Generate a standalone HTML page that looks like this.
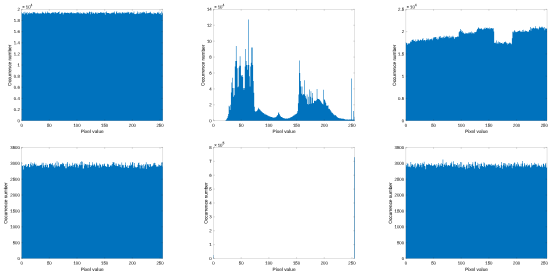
<!DOCTYPE html>
<html><head><meta charset="utf-8"><title>Histograms</title>
<style>
html,body{margin:0;padding:0;background:#fff;}
body{width:550px;height:275px;overflow:hidden;}
svg{display:block;}
text{text-rendering:geometricPrecision;stroke:#262626;stroke-width:0.06px;font-family:"Liberation Sans",sans-serif;fill:#262626;}
</style></head><body>
<svg width="550" height="275" viewBox="0 0 550 275">
<rect width="550" height="275" fill="#fff"/>
<g>
<path d="M21.60 120.70 L21.60 11.84 L21.88 11.84 L21.88 13.39 L22.43 13.39 L22.43 13.34 L22.98 13.34 L22.98 13.72 L23.54 13.72 L23.54 12.37 L24.09 12.37 L24.09 14.57 L24.65 14.57 L24.65 11.75 L25.20 11.75 L25.20 13.50 L25.75 13.50 L25.75 12.75 L26.31 12.75 L26.31 13.14 L26.86 13.14 L26.86 11.95 L27.41 11.95 L27.41 14.40 L27.97 14.40 L27.97 13.19 L28.52 13.19 L28.52 13.24 L29.08 13.24 L29.08 12.18 L29.63 12.18 L29.63 13.73 L30.18 13.73 L30.18 13.09 L30.74 13.09 L30.74 13.58 L31.29 13.58 L31.29 12.94 L31.84 12.94 L31.84 12.56 L32.40 12.56 L32.40 13.73 L32.95 13.73 L32.95 12.17 L33.51 12.17 L33.51 12.34 L34.06 12.34 L34.06 12.62 L34.61 12.62 L34.61 12.34 L35.17 12.34 L35.17 13.44 L35.72 13.44 L35.72 13.05 L36.27 13.05 L36.27 13.62 L36.83 13.62 L36.83 13.16 L37.38 13.16 L37.38 12.60 L37.93 12.60 L37.93 13.45 L38.49 13.45 L38.49 13.24 L39.04 13.24 L39.04 13.45 L39.60 13.45 L39.60 13.56 L40.15 13.56 L40.15 13.44 L40.70 13.44 L40.70 12.98 L41.26 12.98 L41.26 13.75 L41.81 13.75 L41.81 12.81 L42.36 12.81 L42.36 11.81 L42.92 11.81 L42.92 12.45 L43.47 12.45 L43.47 13.10 L44.03 13.10 L44.03 13.59 L44.58 13.59 L44.58 13.49 L45.13 13.49 L45.13 11.79 L45.69 11.79 L45.69 12.93 L46.24 12.93 L46.24 13.41 L46.79 13.41 L46.79 12.84 L47.35 12.84 L47.35 11.51 L47.90 11.51 L47.90 12.89 L48.46 12.89 L48.46 12.54 L49.01 12.54 L49.01 12.76 L49.56 12.76 L49.56 13.21 L50.12 13.21 L50.12 13.76 L50.67 13.76 L50.67 13.21 L51.22 13.21 L51.22 13.11 L51.78 13.11 L51.78 12.56 L52.33 12.56 L52.33 12.38 L52.89 12.38 L52.89 12.32 L53.44 12.32 L53.44 12.77 L53.99 12.77 L53.99 12.35 L54.55 12.35 L54.55 13.49 L55.10 13.49 L55.10 12.10 L55.65 12.10 L55.65 12.61 L56.21 12.61 L56.21 13.18 L56.76 13.18 L56.76 12.63 L57.32 12.63 L57.32 13.02 L57.87 13.02 L57.87 12.18 L58.42 12.18 L58.42 11.91 L58.98 11.91 L58.98 11.45 L59.53 11.45 L59.53 13.94 L60.08 13.94 L60.08 13.97 L60.64 13.97 L60.64 13.32 L61.19 13.32 L61.19 12.86 L61.75 12.86 L61.75 12.36 L62.30 12.36 L62.30 12.75 L62.85 12.75 L62.85 14.38 L63.41 14.38 L63.41 13.18 L63.96 13.18 L63.96 12.39 L64.51 12.39 L64.51 12.81 L65.07 12.81 L65.07 12.44 L65.62 12.44 L65.62 13.12 L66.17 13.12 L66.17 13.11 L66.73 13.11 L66.73 12.84 L67.28 12.84 L67.28 12.68 L67.84 12.68 L67.84 12.83 L68.39 12.83 L68.39 12.89 L68.94 12.89 L68.94 13.44 L69.50 13.44 L69.50 12.71 L70.05 12.71 L70.05 12.88 L70.60 12.88 L70.60 12.18 L71.16 12.18 L71.16 12.13 L71.71 12.13 L71.71 12.84 L72.27 12.84 L72.27 13.23 L72.82 13.23 L72.82 13.41 L73.37 13.41 L73.37 12.67 L73.93 12.67 L73.93 12.92 L74.48 12.92 L74.48 13.21 L75.03 13.21 L75.03 12.94 L75.59 12.94 L75.59 13.40 L76.14 13.40 L76.14 12.48 L76.70 12.48 L76.70 13.28 L77.25 13.28 L77.25 12.12 L77.80 12.12 L77.80 12.69 L78.36 12.69 L78.36 12.56 L78.91 12.56 L78.91 13.73 L79.46 13.73 L79.46 12.85 L80.02 12.85 L80.02 12.45 L80.57 12.45 L80.57 13.63 L81.13 13.63 L81.13 13.15 L81.68 13.15 L81.68 12.95 L82.23 12.95 L82.23 13.92 L82.79 13.92 L82.79 12.75 L83.34 12.75 L83.34 12.38 L83.89 12.38 L83.89 13.57 L84.45 13.57 L84.45 12.72 L85.00 12.72 L85.00 13.88 L85.56 13.88 L85.56 13.00 L86.11 13.00 L86.11 14.09 L86.66 14.09 L86.66 12.19 L87.22 12.19 L87.22 12.68 L87.77 12.68 L87.77 12.99 L88.32 12.99 L88.32 13.51 L88.88 13.51 L88.88 12.08 L89.43 12.08 L89.43 11.60 L89.99 11.60 L89.99 14.26 L90.54 14.26 L90.54 12.11 L91.09 12.11 L91.09 11.84 L91.65 11.84 L91.65 12.73 L92.20 12.73 L92.20 13.80 L92.75 13.80 L92.75 12.37 L93.31 12.37 L93.31 13.09 L93.86 13.09 L93.86 13.39 L94.41 13.39 L94.41 13.82 L94.97 13.82 L94.97 12.59 L95.52 12.59 L95.52 12.42 L96.08 12.42 L96.08 13.40 L96.63 13.40 L96.63 12.61 L97.18 12.61 L97.18 13.77 L97.74 13.77 L97.74 12.41 L98.29 12.41 L98.29 12.94 L98.84 12.94 L98.84 13.10 L99.40 13.10 L99.40 13.04 L99.95 13.04 L99.95 12.36 L100.51 12.36 L100.51 12.45 L101.06 12.45 L101.06 12.60 L101.61 12.60 L101.61 12.87 L102.17 12.87 L102.17 12.91 L102.72 12.91 L102.72 12.54 L103.27 12.54 L103.27 12.81 L103.83 12.81 L103.83 12.49 L104.38 12.49 L104.38 13.18 L104.94 13.18 L104.94 14.66 L105.49 14.66 L105.49 12.25 L106.04 12.25 L106.04 11.45 L106.60 11.45 L106.60 12.66 L107.15 12.66 L107.15 13.04 L107.70 13.04 L107.70 13.06 L108.26 13.06 L108.26 13.05 L108.81 13.05 L108.81 12.96 L109.37 12.96 L109.37 13.75 L109.92 13.75 L109.92 13.33 L110.47 13.33 L110.47 13.66 L111.03 13.66 L111.03 12.80 L111.58 12.80 L111.58 13.18 L112.13 13.18 L112.13 12.62 L112.69 12.62 L112.69 13.09 L113.24 13.09 L113.24 12.28 L113.80 12.28 L113.80 12.82 L114.35 12.82 L114.35 11.44 L114.90 11.44 L114.90 14.29 L115.46 14.29 L115.46 13.42 L116.01 13.42 L116.01 12.34 L116.56 12.34 L116.56 11.21 L117.12 11.21 L117.12 13.14 L117.67 13.14 L117.67 12.94 L118.23 12.94 L118.23 13.13 L118.78 13.13 L118.78 12.04 L119.33 12.04 L119.33 13.17 L119.89 13.17 L119.89 12.50 L120.44 12.50 L120.44 13.19 L120.99 13.19 L120.99 13.85 L121.55 13.85 L121.55 12.75 L122.10 12.75 L122.10 12.62 L122.65 12.62 L122.65 12.07 L123.21 12.07 L123.21 13.05 L123.76 13.05 L123.76 13.40 L124.32 13.40 L124.32 12.58 L124.87 12.58 L124.87 12.80 L125.42 12.80 L125.42 12.77 L125.98 12.77 L125.98 13.02 L126.53 13.02 L126.53 12.16 L127.08 12.16 L127.08 12.71 L127.64 12.71 L127.64 11.64 L128.19 11.64 L128.19 12.20 L128.75 12.20 L128.75 12.51 L129.30 12.51 L129.30 14.10 L129.85 14.10 L129.85 12.55 L130.41 12.55 L130.41 12.68 L130.96 12.68 L130.96 12.40 L131.51 12.40 L131.51 12.24 L132.07 12.24 L132.07 13.25 L132.62 13.25 L132.62 12.40 L133.18 12.40 L133.18 13.36 L133.73 13.36 L133.73 11.61 L134.28 11.61 L134.28 13.90 L134.84 13.90 L134.84 14.19 L135.39 14.19 L135.39 14.12 L135.94 14.12 L135.94 13.59 L136.50 13.59 L136.50 13.75 L137.05 13.75 L137.05 11.61 L137.61 11.61 L137.61 13.20 L138.16 13.20 L138.16 13.90 L138.71 13.90 L138.71 12.19 L139.27 12.19 L139.27 13.38 L139.82 13.38 L139.82 13.83 L140.37 13.83 L140.37 12.36 L140.93 12.36 L140.93 12.54 L141.48 12.54 L141.48 13.27 L142.04 13.27 L142.04 11.99 L142.59 11.99 L142.59 12.88 L143.14 12.88 L143.14 11.84 L143.70 11.84 L143.70 12.62 L144.25 12.62 L144.25 11.88 L144.80 11.88 L144.80 12.89 L145.36 12.89 L145.36 13.82 L145.91 13.82 L145.91 11.26 L146.47 11.26 L146.47 13.35 L147.02 13.35 L147.02 13.11 L147.57 13.11 L147.57 13.46 L148.13 13.46 L148.13 13.11 L148.68 13.11 L148.68 12.80 L149.23 12.80 L149.23 12.83 L149.79 12.83 L149.79 12.51 L150.34 12.51 L150.34 11.72 L150.89 11.72 L150.89 13.05 L151.45 13.05 L151.45 13.83 L152.00 13.83 L152.00 13.79 L152.56 13.79 L152.56 13.43 L153.11 13.43 L153.11 14.13 L153.66 14.13 L153.66 12.39 L154.22 12.39 L154.22 13.32 L154.77 13.32 L154.77 13.19 L155.32 13.19 L155.32 12.97 L155.88 12.97 L155.88 13.94 L156.43 13.94 L156.43 13.57 L156.99 13.57 L156.99 12.50 L157.54 12.50 L157.54 12.54 L158.09 12.54 L158.09 13.28 L158.65 13.28 L158.65 11.71 L159.20 11.71 L159.20 13.88 L159.75 13.88 L159.75 13.21 L160.31 13.21 L160.31 13.13 L160.86 13.13 L160.86 14.91 L161.42 14.91 L161.42 11.62 L161.97 11.62 L161.97 12.71 L162.52 12.71 L162.52 13.70 L162.80 13.70 L162.80 120.70 Z" fill="#0072BD"/>

<rect x="21.60" y="9.35" width="141.20" height="111.35" fill="none" stroke="#262626" stroke-width="0.45" stroke-opacity="0.28"/>
<path d="M21.60 120.70 v-1.40 M21.60 9.35 v1.40 M49.29 120.70 v-1.40 M49.29 9.35 v1.40 M76.97 120.70 v-1.40 M76.97 9.35 v1.40 M104.66 120.70 v-1.40 M104.66 9.35 v1.40 M132.35 120.70 v-1.40 M132.35 9.35 v1.40 M160.03 120.70 v-1.40 M160.03 9.35 v1.40 M21.60 120.70 h1.40 M162.80 120.70 h-1.40 M21.60 109.56 h1.40 M162.80 109.56 h-1.40 M21.60 98.43 h1.40 M162.80 98.43 h-1.40 M21.60 87.29 h1.40 M162.80 87.29 h-1.40 M21.60 76.16 h1.40 M162.80 76.16 h-1.40 M21.60 65.03 h1.40 M162.80 65.03 h-1.40 M21.60 53.89 h1.40 M162.80 53.89 h-1.40 M21.60 42.75 h1.40 M162.80 42.75 h-1.40 M21.60 31.62 h1.40 M162.80 31.62 h-1.40 M21.60 20.48 h1.40 M162.80 20.48 h-1.40 M21.60 9.35 h1.40 M162.80 9.35 h-1.40" stroke="#262626" stroke-width="0.45" stroke-opacity="0.4" fill="none"/>
<g><text transform="translate(21.60 126.70) rotate(0.03)" text-anchor="middle" font-size="4.30">0</text>
<text transform="translate(49.29 126.70) rotate(0.03)" text-anchor="middle" font-size="4.30">50</text>
<text transform="translate(76.97 126.70) rotate(0.03)" text-anchor="middle" font-size="4.30">100</text>
<text transform="translate(104.66 126.70) rotate(0.03)" text-anchor="middle" font-size="4.30">150</text>
<text transform="translate(132.35 126.70) rotate(0.03)" text-anchor="middle" font-size="4.30">200</text>
<text transform="translate(160.03 126.70) rotate(0.03)" text-anchor="middle" font-size="4.30">250</text>
<text transform="translate(19.80 122.20) rotate(0.03)" text-anchor="end" font-size="4.30">0</text>
<text transform="translate(19.80 111.06) rotate(0.03)" text-anchor="end" font-size="4.30">0.2</text>
<text transform="translate(19.80 99.93) rotate(0.03)" text-anchor="end" font-size="4.30">0.4</text>
<text transform="translate(19.80 88.79) rotate(0.03)" text-anchor="end" font-size="4.30">0.6</text>
<text transform="translate(19.80 77.66) rotate(0.03)" text-anchor="end" font-size="4.30">0.8</text>
<text transform="translate(19.80 66.53) rotate(0.03)" text-anchor="end" font-size="4.30">1</text>
<text transform="translate(19.80 55.39) rotate(0.03)" text-anchor="end" font-size="4.30">1.2</text>
<text transform="translate(19.80 44.25) rotate(0.03)" text-anchor="end" font-size="4.30">1.4</text>
<text transform="translate(19.80 33.12) rotate(0.03)" text-anchor="end" font-size="4.30">1.6</text>
<text transform="translate(19.80 21.98) rotate(0.03)" text-anchor="end" font-size="4.30">1.8</text>
<text transform="translate(19.80 10.85) rotate(0.03)" text-anchor="end" font-size="4.30">2</text>
<text transform="translate(92.20 133.10) rotate(0.03)" text-anchor="middle" stroke-width="0.14" font-size="4.75">Pixel value</text>
<text transform="translate(11.32 65.38) rotate(-89.97)" text-anchor="middle" stroke-width="0.14" font-size="4.68">Occurrence number</text>
<text transform="translate(22.30 8.55) rotate(0.03)" font-size="4.30">×<tspan dx="1.0">10</tspan><tspan dy="-2.3" font-size="3.44">4</tspan></text></g>
</g>
<g>
<path d="M213.50 120.70 L213.50 120.70 L213.78 120.70 L213.78 120.70 L214.33 120.70 L214.33 120.70 L214.88 120.70 L214.88 120.70 L215.44 120.70 L215.44 120.70 L215.99 120.70 L215.99 120.70 L216.55 120.70 L216.55 120.70 L217.10 120.70 L217.10 120.70 L217.65 120.70 L217.65 120.70 L218.21 120.70 L218.21 120.70 L218.76 120.70 L218.76 120.70 L219.31 120.70 L219.31 120.70 L219.87 120.70 L219.87 120.70 L220.42 120.70 L220.42 120.70 L220.98 120.70 L220.98 120.70 L221.53 120.70 L221.53 120.70 L222.08 120.70 L222.08 120.70 L222.64 120.70 L222.64 120.70 L223.19 120.70 L223.19 120.70 L223.74 120.70 L223.74 120.70 L224.30 120.70 L224.30 120.70 L224.85 120.70 L224.85 120.70 L225.41 120.70 L225.41 120.33 L225.96 120.33 L225.96 119.76 L226.51 119.76 L226.51 118.84 L227.07 118.84 L227.07 117.96 L227.62 117.96 L227.62 116.15 L228.17 116.15 L228.17 114.09 L228.73 114.09 L228.73 105.83 L229.28 105.83 L229.28 106.38 L229.83 106.38 L229.83 110.12 L230.39 110.12 L230.39 104.86 L230.94 104.86 L230.94 92.51 L231.50 92.51 L231.50 82.52 L232.05 82.52 L232.05 77.75 L232.60 77.75 L232.60 88.09 L233.16 88.09 L233.16 96.84 L233.71 96.84 L233.71 88.09 L234.26 88.09 L234.26 95.25 L234.82 95.25 L234.82 66.62 L235.37 66.62 L235.37 61.05 L235.93 61.05 L235.93 45.94 L236.48 45.94 L236.48 61.05 L237.03 61.05 L237.03 68.21 L237.59 68.21 L237.59 87.30 L238.14 87.30 L238.14 86.50 L238.69 86.50 L238.69 67.41 L239.25 67.41 L239.25 65.82 L239.80 65.82 L239.80 56.28 L240.36 56.28 L240.36 65.82 L240.91 65.82 L240.91 74.97 L241.46 74.97 L241.46 76.16 L242.02 76.16 L242.02 74.97 L242.57 74.97 L242.57 76.96 L243.12 76.96 L243.12 88.09 L243.68 88.09 L243.68 89.68 L244.23 89.68 L244.23 88.09 L244.79 88.09 L244.79 66.62 L245.34 66.62 L245.34 49.12 L245.89 49.12 L245.89 61.05 L246.45 61.05 L246.45 65.03 L247.00 65.03 L247.00 69.80 L247.55 69.80 L247.55 65.03 L248.11 65.03 L248.11 19.50 L248.66 19.50 L248.66 65.03 L249.22 65.03 L249.22 76.16 L249.77 76.16 L249.77 86.50 L250.32 86.50 L250.32 66.62 L250.88 66.62 L250.88 62.64 L251.43 62.64 L251.43 47.53 L251.98 47.53 L251.98 47.53 L252.54 47.53 L252.54 65.03 L253.09 65.03 L253.09 80.93 L253.65 80.93 L253.65 92.86 L254.20 92.86 L254.20 106.79 L254.75 106.79 L254.75 111.08 L255.31 111.08 L255.31 111.85 L255.86 111.85 L255.86 111.48 L256.41 111.48 L256.41 111.02 L256.97 111.02 L256.97 110.51 L257.52 110.51 L257.52 109.45 L258.07 109.45 L258.07 107.84 L258.63 107.84 L258.63 108.78 L259.18 108.78 L259.18 109.33 L259.74 109.33 L259.74 109.74 L260.29 109.74 L260.29 110.54 L260.84 110.54 L260.84 111.20 L261.40 111.20 L261.40 111.44 L261.95 111.44 L261.95 111.94 L262.50 111.94 L262.50 112.75 L263.06 112.75 L263.06 113.04 L263.61 113.04 L263.61 113.21 L264.17 113.21 L264.17 114.24 L264.72 114.24 L264.72 113.84 L265.27 113.84 L265.27 114.58 L265.83 114.58 L265.83 114.70 L266.38 114.70 L266.38 114.76 L266.93 114.76 L266.93 115.09 L267.49 115.09 L267.49 115.72 L268.04 115.72 L268.04 115.67 L268.60 115.67 L268.60 116.27 L269.15 116.27 L269.15 116.37 L269.70 116.37 L269.70 116.40 L270.26 116.40 L270.26 116.78 L270.81 116.78 L270.81 116.89 L271.36 116.89 L271.36 117.03 L271.92 117.03 L271.92 117.19 L272.47 117.19 L272.47 117.41 L273.03 117.41 L273.03 117.74 L273.58 117.74 L273.58 117.49 L274.13 117.49 L274.13 117.39 L274.69 117.39 L274.69 117.47 L275.24 117.47 L275.24 117.18 L275.79 117.18 L275.79 116.99 L276.35 116.99 L276.35 116.17 L276.90 116.17 L276.90 115.39 L277.46 115.39 L277.46 114.97 L278.01 114.97 L278.01 113.28 L278.56 113.28 L278.56 112.32 L279.12 112.32 L279.12 114.08 L279.67 114.08 L279.67 115.37 L280.22 115.37 L280.22 115.95 L280.78 115.95 L280.78 116.91 L281.33 116.91 L281.33 116.92 L281.89 116.92 L281.89 117.20 L282.44 117.20 L282.44 117.80 L282.99 117.80 L282.99 117.92 L283.55 117.92 L283.55 118.13 L284.10 118.13 L284.10 118.24 L284.65 118.24 L284.65 118.52 L285.21 118.52 L285.21 118.64 L285.76 118.64 L285.76 118.55 L286.31 118.55 L286.31 118.57 L286.87 118.57 L286.87 118.67 L287.42 118.67 L287.42 118.52 L287.98 118.52 L287.98 118.37 L288.53 118.37 L288.53 118.24 L289.08 118.24 L289.08 118.23 L289.64 118.23 L289.64 117.77 L290.19 117.77 L290.19 117.42 L290.74 117.42 L290.74 117.22 L291.30 117.22 L291.30 117.10 L291.85 117.10 L291.85 116.85 L292.41 116.85 L292.41 116.31 L292.96 116.31 L292.96 115.58 L293.51 115.58 L293.51 115.63 L294.07 115.63 L294.07 115.25 L294.62 115.25 L294.62 114.58 L295.17 114.58 L295.17 114.46 L295.73 114.46 L295.73 114.06 L296.28 114.06 L296.28 113.84 L296.84 113.84 L296.84 112.79 L297.39 112.79 L297.39 110.96 L297.94 110.96 L297.94 103.36 L298.50 103.36 L298.50 94.45 L299.05 94.45 L299.05 60.50 L299.60 60.50 L299.60 72.98 L300.16 72.98 L300.16 80.93 L300.71 80.93 L300.71 86.50 L301.27 86.50 L301.27 93.66 L301.82 93.66 L301.82 86.50 L302.37 86.50 L302.37 95.25 L302.93 95.25 L302.93 94.06 L303.48 94.06 L303.48 94.45 L304.03 94.45 L304.03 80.14 L304.59 80.14 L304.59 94.45 L305.14 94.45 L305.14 96.04 L305.70 96.04 L305.70 97.63 L306.25 97.63 L306.25 99.23 L306.80 99.23 L306.80 94.45 L307.36 94.45 L307.36 104.00 L307.91 104.00 L307.91 104.40 L308.46 104.40 L308.46 96.84 L309.02 96.84 L309.02 89.52 L309.57 89.52 L309.57 104.00 L310.13 104.00 L310.13 96.84 L310.68 96.84 L310.68 91.27 L311.23 91.27 L311.23 103.60 L311.79 103.60 L311.79 97.63 L312.34 97.63 L312.34 93.02 L312.89 93.02 L312.89 103.20 L313.45 103.20 L313.45 102.88 L314.00 102.88 L314.00 100.82 L314.55 100.82 L314.55 100.82 L315.11 100.82 L315.11 100.82 L315.66 100.82 L315.66 101.21 L316.22 101.21 L316.22 100.02 L316.77 100.02 L316.77 89.12 L317.32 89.12 L317.32 98.83 L317.88 98.83 L317.88 98.91 L318.43 98.91 L318.43 98.91 L318.98 98.91 L318.98 99.23 L319.54 99.23 L319.54 100.02 L320.09 100.02 L320.09 100.82 L320.65 100.82 L320.65 101.61 L321.20 101.61 L321.20 102.41 L321.75 102.41 L321.75 103.20 L322.31 103.20 L322.31 104.00 L322.86 104.00 L322.86 104.40 L323.41 104.40 L323.41 89.84 L323.97 89.84 L323.97 99.23 L324.52 99.23 L324.52 100.02 L325.08 100.02 L325.08 101.61 L325.63 101.61 L325.63 102.88 L326.18 102.88 L326.18 105.59 L326.74 105.59 L326.74 105.83 L327.29 105.83 L327.29 105.83 L327.84 105.83 L327.84 105.19 L328.40 105.19 L328.40 108.77 L328.95 108.77 L328.95 108.77 L329.51 108.77 L329.51 109.17 L330.06 109.17 L330.06 109.96 L330.61 109.96 L330.61 111.24 L331.17 111.24 L331.17 111.76 L331.72 111.76 L331.72 113.00 L332.27 113.00 L332.27 112.82 L332.83 112.82 L332.83 113.70 L333.38 113.70 L333.38 114.40 L333.94 114.40 L333.94 114.79 L334.49 114.79 L334.49 115.42 L335.04 115.42 L335.04 115.11 L335.60 115.11 L335.60 115.52 L336.15 115.52 L336.15 115.99 L336.70 115.99 L336.70 116.93 L337.26 116.93 L337.26 117.26 L337.81 117.26 L337.81 117.68 L338.37 117.68 L338.37 117.88 L338.92 117.88 L338.92 118.18 L339.47 118.18 L339.47 118.19 L340.03 118.19 L340.03 118.35 L340.58 118.35 L340.58 118.50 L341.13 118.50 L341.13 118.66 L341.69 118.66 L341.69 118.59 L342.24 118.59 L342.24 118.80 L342.79 118.80 L342.79 118.70 L343.35 118.70 L343.35 118.82 L343.90 118.82 L343.90 118.94 L344.46 118.94 L344.46 119.16 L345.01 119.16 L345.01 119.41 L345.56 119.41 L345.56 119.62 L346.12 119.62 L346.12 119.54 L346.67 119.54 L346.67 119.60 L347.22 119.60 L347.22 119.53 L347.78 119.53 L347.78 119.54 L348.33 119.54 L348.33 119.64 L348.89 119.64 L348.89 119.57 L349.44 119.57 L349.44 119.61 L349.99 119.61 L349.99 119.55 L350.55 119.55 L350.55 119.58 L351.10 119.58 L351.10 78.40 L351.65 78.40 L351.65 119.53 L352.21 119.53 L352.21 119.65 L352.76 119.65 L352.76 119.58 L353.32 119.58 L353.32 110.92 L353.87 110.92 L353.87 119.65 L354.42 119.65 L354.42 116.72 L354.70 116.72 L354.70 120.70 Z" fill="#0072BD"/>

<rect x="213.50" y="9.35" width="141.20" height="111.35" fill="none" stroke="#262626" stroke-width="0.45" stroke-opacity="0.28"/>
<path d="M213.50 120.70 v-1.40 M213.50 9.35 v1.40 M241.19 120.70 v-1.40 M241.19 9.35 v1.40 M268.87 120.70 v-1.40 M268.87 9.35 v1.40 M296.56 120.70 v-1.40 M296.56 9.35 v1.40 M324.25 120.70 v-1.40 M324.25 9.35 v1.40 M351.93 120.70 v-1.40 M351.93 9.35 v1.40 M213.50 120.70 h1.40 M354.70 120.70 h-1.40 M213.50 104.79 h1.40 M354.70 104.79 h-1.40 M213.50 88.89 h1.40 M354.70 88.89 h-1.40 M213.50 72.98 h1.40 M354.70 72.98 h-1.40 M213.50 57.07 h1.40 M354.70 57.07 h-1.40 M213.50 41.16 h1.40 M354.70 41.16 h-1.40 M213.50 25.26 h1.40 M354.70 25.26 h-1.40 M213.50 9.35 h1.40 M354.70 9.35 h-1.40" stroke="#262626" stroke-width="0.45" stroke-opacity="0.4" fill="none"/>
<g><text transform="translate(213.50 126.70) rotate(0.03)" text-anchor="middle" font-size="4.30">0</text>
<text transform="translate(241.19 126.70) rotate(0.03)" text-anchor="middle" font-size="4.30">50</text>
<text transform="translate(268.87 126.70) rotate(0.03)" text-anchor="middle" font-size="4.30">100</text>
<text transform="translate(296.56 126.70) rotate(0.03)" text-anchor="middle" font-size="4.30">150</text>
<text transform="translate(324.25 126.70) rotate(0.03)" text-anchor="middle" font-size="4.30">200</text>
<text transform="translate(351.93 126.70) rotate(0.03)" text-anchor="middle" font-size="4.30">250</text>
<text transform="translate(211.70 122.20) rotate(0.03)" text-anchor="end" font-size="4.30">0</text>
<text transform="translate(211.70 106.29) rotate(0.03)" text-anchor="end" font-size="4.30">2</text>
<text transform="translate(211.70 90.39) rotate(0.03)" text-anchor="end" font-size="4.30">4</text>
<text transform="translate(211.70 74.48) rotate(0.03)" text-anchor="end" font-size="4.30">6</text>
<text transform="translate(211.70 58.57) rotate(0.03)" text-anchor="end" font-size="4.30">8</text>
<text transform="translate(211.70 42.66) rotate(0.03)" text-anchor="end" font-size="4.30">10</text>
<text transform="translate(211.70 26.76) rotate(0.03)" text-anchor="end" font-size="4.30">12</text>
<text transform="translate(211.70 10.85) rotate(0.03)" text-anchor="end" font-size="4.30">14</text>
<text transform="translate(284.10 133.10) rotate(0.03)" text-anchor="middle" stroke-width="0.14" font-size="4.75">Pixel value</text>
<text transform="translate(204.62 65.38) rotate(-89.97)" text-anchor="middle" stroke-width="0.14" font-size="4.68">Occurrence number</text>
<text transform="translate(214.20 8.55) rotate(0.03)" font-size="4.30">×<tspan dx="1.0">10</tspan><tspan dy="-2.3" font-size="3.44">4</tspan></text></g>
</g>
<g>
<path d="M405.85 120.70 L405.85 42.02 L406.13 42.02 L406.13 43.04 L406.68 43.04 L406.68 43.25 L407.23 43.25 L407.23 44.76 L407.79 44.76 L407.79 43.42 L408.34 43.42 L408.34 43.42 L408.90 43.42 L408.90 43.14 L409.45 43.14 L409.45 43.51 L410.00 43.51 L410.00 42.31 L410.56 42.31 L410.56 41.21 L411.11 41.21 L411.11 41.83 L411.66 41.83 L411.66 40.01 L412.22 40.01 L412.22 39.96 L412.77 39.96 L412.77 39.25 L413.33 39.25 L413.33 40.53 L413.88 40.53 L413.88 40.84 L414.43 40.84 L414.43 40.90 L414.99 40.90 L414.99 41.65 L415.54 41.65 L415.54 39.58 L416.09 39.58 L416.09 41.20 L416.65 41.20 L416.65 41.21 L417.20 41.21 L417.20 40.38 L417.76 40.38 L417.76 38.97 L418.31 38.97 L418.31 39.92 L418.86 39.92 L418.86 40.88 L419.42 40.88 L419.42 40.58 L419.97 40.58 L419.97 39.45 L420.52 39.45 L420.52 40.02 L421.08 40.02 L421.08 40.44 L421.63 40.44 L421.63 39.94 L422.18 39.94 L422.18 39.09 L422.74 39.09 L422.74 38.04 L423.29 38.04 L423.29 40.56 L423.85 40.56 L423.85 39.99 L424.40 39.99 L424.40 40.07 L424.95 40.07 L424.95 41.30 L425.51 41.30 L425.51 40.03 L426.06 40.03 L426.06 40.05 L426.61 40.05 L426.61 38.26 L427.17 38.26 L427.17 39.20 L427.72 39.20 L427.72 40.33 L428.28 40.33 L428.28 38.44 L428.83 38.44 L428.83 39.18 L429.38 39.18 L429.38 40.22 L429.94 40.22 L429.94 39.24 L430.49 39.24 L430.49 39.16 L431.04 39.16 L431.04 39.33 L431.60 39.33 L431.60 38.53 L432.15 38.53 L432.15 40.29 L432.71 40.29 L432.71 38.64 L433.26 38.64 L433.26 37.55 L433.81 37.55 L433.81 37.61 L434.37 37.61 L434.37 37.34 L434.92 37.34 L434.92 37.26 L435.47 37.26 L435.47 36.90 L436.03 36.90 L436.03 38.92 L436.58 38.92 L436.58 37.28 L437.14 37.28 L437.14 39.38 L437.69 39.38 L437.69 38.31 L438.24 38.31 L438.24 39.29 L438.80 39.29 L438.80 36.85 L439.35 36.85 L439.35 36.56 L439.90 36.56 L439.90 37.72 L440.46 37.72 L440.46 36.09 L441.01 36.09 L441.01 38.02 L441.57 38.02 L441.57 37.33 L442.12 37.33 L442.12 37.29 L442.67 37.29 L442.67 38.24 L443.23 38.24 L443.23 37.00 L443.78 37.00 L443.78 35.76 L444.33 35.76 L444.33 38.10 L444.89 38.10 L444.89 36.53 L445.44 36.53 L445.44 37.34 L446.00 37.34 L446.00 35.76 L446.55 35.76 L446.55 36.76 L447.10 36.76 L447.10 36.57 L447.66 36.57 L447.66 36.57 L448.21 36.57 L448.21 36.85 L448.76 36.85 L448.76 38.14 L449.32 38.14 L449.32 35.87 L449.87 35.87 L449.87 38.05 L450.42 38.05 L450.42 36.73 L450.98 36.73 L450.98 36.39 L451.53 36.39 L451.53 37.52 L452.09 37.52 L452.09 36.70 L452.64 36.70 L452.64 35.85 L453.19 35.85 L453.19 36.77 L453.75 36.77 L453.75 37.43 L454.30 37.43 L454.30 39.02 L454.85 39.02 L454.85 37.43 L455.41 37.43 L455.41 37.09 L455.96 37.09 L455.96 37.00 L456.52 37.00 L456.52 37.32 L457.07 37.32 L457.07 36.22 L457.62 36.22 L457.62 36.95 L458.18 36.95 L458.18 36.54 L458.73 36.54 L458.73 32.21 L459.28 32.21 L459.28 31.43 L459.84 31.43 L459.84 31.01 L460.39 31.01 L460.39 29.08 L460.95 29.08 L460.95 30.14 L461.50 30.14 L461.50 31.91 L462.05 31.91 L462.05 30.97 L462.61 30.97 L462.61 32.64 L463.16 32.64 L463.16 32.49 L463.71 32.49 L463.71 33.31 L464.27 33.31 L464.27 33.80 L464.82 33.80 L464.82 33.90 L465.38 33.90 L465.38 32.75 L465.93 32.75 L465.93 32.96 L466.48 32.96 L466.48 33.57 L467.04 33.57 L467.04 33.25 L467.59 33.25 L467.59 33.38 L468.14 33.38 L468.14 32.41 L468.70 32.41 L468.70 33.49 L469.25 33.49 L469.25 32.50 L469.81 32.50 L469.81 32.15 L470.36 32.15 L470.36 32.39 L470.91 32.39 L470.91 33.39 L471.47 33.39 L471.47 31.59 L472.02 31.59 L472.02 33.16 L472.57 33.16 L472.57 32.22 L473.13 32.22 L473.13 33.11 L473.68 33.11 L473.68 33.85 L474.24 33.85 L474.24 32.22 L474.79 32.22 L474.79 32.12 L475.34 32.12 L475.34 32.36 L475.90 32.36 L475.90 32.02 L476.45 32.02 L476.45 30.54 L477.00 30.54 L477.00 29.29 L477.56 29.29 L477.56 28.82 L478.11 28.82 L478.11 27.14 L478.66 27.14 L478.66 28.00 L479.22 28.00 L479.22 29.05 L479.77 29.05 L479.77 28.17 L480.33 28.17 L480.33 28.99 L480.88 28.99 L480.88 28.95 L481.43 28.95 L481.43 27.88 L481.99 27.88 L481.99 28.97 L482.54 28.97 L482.54 29.88 L483.09 29.88 L483.09 29.25 L483.65 29.25 L483.65 28.43 L484.20 28.43 L484.20 28.38 L484.76 28.38 L484.76 27.47 L485.31 27.47 L485.31 29.03 L485.86 29.03 L485.86 27.85 L486.42 27.85 L486.42 28.08 L486.97 28.08 L486.97 28.52 L487.52 28.52 L487.52 27.72 L488.08 27.72 L488.08 27.98 L488.63 27.98 L488.63 29.05 L489.19 29.05 L489.19 27.48 L489.74 27.48 L489.74 29.30 L490.29 29.30 L490.29 28.26 L490.85 28.26 L490.85 28.29 L491.40 28.29 L491.40 27.93 L491.95 27.93 L491.95 28.84 L492.51 28.84 L492.51 28.27 L493.06 28.27 L493.06 28.33 L493.62 28.33 L493.62 31.47 L494.17 31.47 L494.17 43.10 L494.72 43.10 L494.72 42.42 L495.28 42.42 L495.28 42.70 L495.83 42.70 L495.83 43.55 L496.38 43.55 L496.38 40.38 L496.94 40.38 L496.94 42.60 L497.49 42.60 L497.49 43.75 L498.05 43.75 L498.05 41.44 L498.60 41.44 L498.60 43.44 L499.15 43.44 L499.15 42.30 L499.71 42.30 L499.71 41.92 L500.26 41.92 L500.26 43.15 L500.81 43.15 L500.81 42.99 L501.37 42.99 L501.37 43.10 L501.92 43.10 L501.92 42.78 L502.48 42.78 L502.48 44.00 L503.03 44.00 L503.03 43.70 L503.58 43.70 L503.58 42.84 L504.14 42.84 L504.14 41.91 L504.69 41.91 L504.69 42.25 L505.24 42.25 L505.24 41.39 L505.80 41.39 L505.80 42.23 L506.35 42.23 L506.35 43.21 L506.90 43.21 L506.90 42.92 L507.46 42.92 L507.46 44.46 L508.01 44.46 L508.01 43.62 L508.57 43.62 L508.57 43.69 L509.12 43.69 L509.12 42.67 L509.67 42.67 L509.67 42.38 L510.23 42.38 L510.23 43.36 L510.78 43.36 L510.78 43.40 L511.33 43.40 L511.33 44.19 L511.89 44.19 L511.89 38.31 L512.44 38.31 L512.44 31.71 L513.00 31.71 L513.00 31.53 L513.55 31.53 L513.55 32.49 L514.10 32.49 L514.10 30.25 L514.66 30.25 L514.66 30.86 L515.21 30.86 L515.21 31.87 L515.76 31.87 L515.76 32.20 L516.32 32.20 L516.32 32.01 L516.87 32.01 L516.87 31.61 L517.43 31.61 L517.43 31.72 L517.98 31.72 L517.98 31.29 L518.53 31.29 L518.53 31.04 L519.09 31.04 L519.09 30.54 L519.64 30.54 L519.64 30.69 L520.19 30.69 L520.19 31.68 L520.75 31.68 L520.75 31.26 L521.30 31.26 L521.30 31.86 L521.86 31.86 L521.86 31.99 L522.41 31.99 L522.41 29.97 L522.96 29.97 L522.96 31.85 L523.52 31.85 L523.52 29.86 L524.07 29.86 L524.07 31.71 L524.62 31.71 L524.62 31.21 L525.18 31.21 L525.18 30.51 L525.73 30.51 L525.73 31.34 L526.29 31.34 L526.29 31.03 L526.84 31.03 L526.84 31.51 L527.39 31.51 L527.39 31.68 L527.95 31.68 L527.95 31.41 L528.50 31.41 L528.50 31.77 L529.05 31.77 L529.05 29.92 L529.61 29.92 L529.61 29.84 L530.16 29.84 L530.16 27.12 L530.72 27.12 L530.72 30.65 L531.27 30.65 L531.27 28.47 L531.82 28.47 L531.82 28.02 L532.38 28.02 L532.38 28.70 L532.93 28.70 L532.93 27.58 L533.48 27.58 L533.48 27.93 L534.04 27.93 L534.04 28.66 L534.59 28.66 L534.59 28.08 L535.14 28.08 L535.14 26.16 L535.70 26.16 L535.70 28.20 L536.25 28.20 L536.25 28.16 L536.81 28.16 L536.81 28.74 L537.36 28.74 L537.36 28.27 L537.91 28.27 L537.91 29.40 L538.47 29.40 L538.47 28.52 L539.02 28.52 L539.02 26.38 L539.57 26.38 L539.57 27.48 L540.13 27.48 L540.13 27.81 L540.68 27.81 L540.68 27.43 L541.24 27.43 L541.24 26.80 L541.79 26.80 L541.79 27.82 L542.34 27.82 L542.34 26.63 L542.90 26.63 L542.90 27.42 L543.45 27.42 L543.45 28.13 L544.00 28.13 L544.00 26.88 L544.56 26.88 L544.56 30.14 L545.11 30.14 L545.11 28.70 L545.67 28.70 L545.67 28.02 L546.22 28.02 L546.22 28.95 L546.77 28.95 L546.77 28.33 L547.05 28.33 L547.05 120.70 Z" fill="#0072BD"/>

<rect x="405.85" y="9.35" width="141.20" height="111.35" fill="none" stroke="#262626" stroke-width="0.45" stroke-opacity="0.28"/>
<path d="M405.85 120.70 v-1.40 M405.85 9.35 v1.40 M433.54 120.70 v-1.40 M433.54 9.35 v1.40 M461.22 120.70 v-1.40 M461.22 9.35 v1.40 M488.91 120.70 v-1.40 M488.91 9.35 v1.40 M516.60 120.70 v-1.40 M516.60 9.35 v1.40 M544.28 120.70 v-1.40 M544.28 9.35 v1.40 M405.85 120.70 h1.40 M547.05 120.70 h-1.40 M405.85 98.43 h1.40 M547.05 98.43 h-1.40 M405.85 76.16 h1.40 M547.05 76.16 h-1.40 M405.85 53.89 h1.40 M547.05 53.89 h-1.40 M405.85 31.62 h1.40 M547.05 31.62 h-1.40 M405.85 9.35 h1.40 M547.05 9.35 h-1.40" stroke="#262626" stroke-width="0.45" stroke-opacity="0.4" fill="none"/>
<g><text transform="translate(405.85 126.70) rotate(0.03)" text-anchor="middle" font-size="4.30">0</text>
<text transform="translate(433.54 126.70) rotate(0.03)" text-anchor="middle" font-size="4.30">50</text>
<text transform="translate(461.22 126.70) rotate(0.03)" text-anchor="middle" font-size="4.30">100</text>
<text transform="translate(488.91 126.70) rotate(0.03)" text-anchor="middle" font-size="4.30">150</text>
<text transform="translate(516.60 126.70) rotate(0.03)" text-anchor="middle" font-size="4.30">200</text>
<text transform="translate(544.28 126.70) rotate(0.03)" text-anchor="middle" font-size="4.30">250</text>
<text transform="translate(404.05 122.20) rotate(0.03)" text-anchor="end" font-size="4.30">0</text>
<text transform="translate(404.05 99.93) rotate(0.03)" text-anchor="end" font-size="4.30">0.5</text>
<text transform="translate(404.05 77.66) rotate(0.03)" text-anchor="end" font-size="4.30">1</text>
<text transform="translate(404.05 55.39) rotate(0.03)" text-anchor="end" font-size="4.30">1.5</text>
<text transform="translate(404.05 33.12) rotate(0.03)" text-anchor="end" font-size="4.30">2</text>
<text transform="translate(404.05 10.85) rotate(0.03)" text-anchor="end" font-size="4.30">2.5</text>
<text transform="translate(476.45 133.10) rotate(0.03)" text-anchor="middle" stroke-width="0.14" font-size="4.75">Pixel value</text>
<text transform="translate(396.07 65.38) rotate(-89.97)" text-anchor="middle" stroke-width="0.14" font-size="4.68">Occurrence number</text>
<text transform="translate(406.55 8.55) rotate(0.03)" font-size="4.30">×<tspan dx="1.0">10</tspan><tspan dy="-2.3" font-size="3.44">4</tspan></text></g>
</g>
<g>
<path d="M21.60 258.50 L21.60 162.06 L21.88 162.06 L21.88 165.55 L22.43 165.55 L22.43 165.89 L22.98 165.89 L22.98 169.61 L23.54 169.61 L23.54 165.07 L24.09 165.07 L24.09 165.61 L24.65 165.61 L24.65 165.98 L25.20 165.98 L25.20 164.52 L25.75 164.52 L25.75 164.34 L26.31 164.34 L26.31 166.89 L26.86 166.89 L26.86 166.58 L27.41 166.58 L27.41 165.87 L27.97 165.87 L27.97 163.88 L28.52 163.88 L28.52 164.10 L29.08 164.10 L29.08 167.30 L29.63 167.30 L29.63 166.98 L30.18 166.98 L30.18 163.80 L30.74 163.80 L30.74 162.36 L31.29 162.36 L31.29 165.11 L31.84 165.11 L31.84 166.23 L32.40 166.23 L32.40 163.18 L32.95 163.18 L32.95 165.59 L33.51 165.59 L33.51 163.82 L34.06 163.82 L34.06 162.41 L34.61 162.41 L34.61 163.98 L35.17 163.98 L35.17 164.93 L35.72 164.93 L35.72 163.80 L36.27 163.80 L36.27 166.16 L36.83 166.16 L36.83 165.36 L37.38 165.36 L37.38 166.04 L37.93 166.04 L37.93 165.41 L38.49 165.41 L38.49 165.89 L39.04 165.89 L39.04 165.38 L39.60 165.38 L39.60 165.71 L40.15 165.71 L40.15 164.91 L40.70 164.91 L40.70 164.95 L41.26 164.95 L41.26 164.55 L41.81 164.55 L41.81 162.66 L42.36 162.66 L42.36 167.71 L42.92 167.71 L42.92 162.84 L43.47 162.84 L43.47 165.47 L44.03 165.47 L44.03 167.17 L44.58 167.17 L44.58 165.35 L45.13 165.35 L45.13 164.90 L45.69 164.90 L45.69 163.23 L46.24 163.23 L46.24 166.88 L46.79 166.88 L46.79 164.69 L47.35 164.69 L47.35 164.86 L47.90 164.86 L47.90 167.94 L48.46 167.94 L48.46 167.09 L49.01 167.09 L49.01 164.03 L49.56 164.03 L49.56 163.87 L50.12 163.87 L50.12 163.20 L50.67 163.20 L50.67 164.14 L51.22 164.14 L51.22 164.38 L51.78 164.38 L51.78 164.85 L52.33 164.85 L52.33 162.99 L52.89 162.99 L52.89 166.50 L53.44 166.50 L53.44 165.30 L53.99 165.30 L53.99 164.40 L54.55 164.40 L54.55 167.76 L55.10 167.76 L55.10 162.81 L55.65 162.81 L55.65 166.42 L56.21 166.42 L56.21 165.18 L56.76 165.18 L56.76 161.36 L57.32 161.36 L57.32 166.48 L57.87 166.48 L57.87 165.97 L58.42 165.97 L58.42 162.38 L58.98 162.38 L58.98 166.91 L59.53 166.91 L59.53 165.80 L60.08 165.80 L60.08 164.18 L60.64 164.18 L60.64 164.28 L61.19 164.28 L61.19 164.04 L61.75 164.04 L61.75 164.42 L62.30 164.42 L62.30 162.75 L62.85 162.75 L62.85 163.32 L63.41 163.32 L63.41 164.04 L63.96 164.04 L63.96 166.23 L64.51 166.23 L64.51 166.28 L65.07 166.28 L65.07 168.33 L65.62 168.33 L65.62 163.88 L66.17 163.88 L66.17 168.18 L66.73 168.18 L66.73 163.55 L67.28 163.55 L67.28 161.90 L67.84 161.90 L67.84 166.88 L68.39 166.88 L68.39 166.23 L68.94 166.23 L68.94 165.88 L69.50 165.88 L69.50 163.64 L70.05 163.64 L70.05 166.54 L70.60 166.54 L70.60 165.28 L71.16 165.28 L71.16 165.96 L71.71 165.96 L71.71 165.49 L72.27 165.49 L72.27 162.85 L72.82 162.85 L72.82 166.71 L73.37 166.71 L73.37 164.94 L73.93 164.94 L73.93 164.59 L74.48 164.59 L74.48 163.59 L75.03 163.59 L75.03 167.23 L75.59 167.23 L75.59 163.15 L76.14 163.15 L76.14 164.31 L76.70 164.31 L76.70 163.56 L77.25 163.56 L77.25 164.94 L77.80 164.94 L77.80 167.87 L78.36 167.87 L78.36 166.17 L78.91 166.17 L78.91 163.66 L79.46 163.66 L79.46 165.00 L80.02 165.00 L80.02 165.14 L80.57 165.14 L80.57 161.99 L81.13 161.99 L81.13 161.29 L81.68 161.29 L81.68 165.12 L82.23 165.12 L82.23 161.75 L82.79 161.75 L82.79 168.48 L83.34 168.48 L83.34 168.57 L83.89 168.57 L83.89 163.57 L84.45 163.57 L84.45 165.51 L85.00 165.51 L85.00 164.07 L85.56 164.07 L85.56 164.17 L86.11 164.17 L86.11 165.21 L86.66 165.21 L86.66 163.89 L87.22 163.89 L87.22 164.80 L87.77 164.80 L87.77 167.68 L88.32 167.68 L88.32 164.68 L88.88 164.68 L88.88 164.74 L89.43 164.74 L89.43 161.92 L89.99 161.92 L89.99 166.99 L90.54 166.99 L90.54 165.03 L91.09 165.03 L91.09 165.79 L91.65 165.79 L91.65 165.29 L92.20 165.29 L92.20 162.22 L92.75 162.22 L92.75 164.41 L93.31 164.41 L93.31 165.86 L93.86 165.86 L93.86 164.80 L94.41 164.80 L94.41 163.75 L94.97 163.75 L94.97 166.76 L95.52 166.76 L95.52 165.51 L96.08 165.51 L96.08 162.42 L96.63 162.42 L96.63 163.59 L97.18 163.59 L97.18 165.14 L97.74 165.14 L97.74 165.88 L98.29 165.88 L98.29 165.32 L98.84 165.32 L98.84 167.72 L99.40 167.72 L99.40 163.44 L99.95 163.44 L99.95 164.47 L100.51 164.47 L100.51 164.82 L101.06 164.82 L101.06 167.28 L101.61 167.28 L101.61 166.28 L102.17 166.28 L102.17 164.18 L102.72 164.18 L102.72 164.62 L103.27 164.62 L103.27 165.91 L103.83 165.91 L103.83 164.19 L104.38 164.19 L104.38 163.45 L104.94 163.45 L104.94 166.22 L105.49 166.22 L105.49 165.97 L106.04 165.97 L106.04 166.55 L106.60 166.55 L106.60 167.04 L107.15 167.04 L107.15 163.69 L107.70 163.69 L107.70 164.19 L108.26 164.19 L108.26 164.48 L108.81 164.48 L108.81 167.07 L109.37 167.07 L109.37 166.85 L109.92 166.85 L109.92 165.18 L110.47 165.18 L110.47 165.77 L111.03 165.77 L111.03 164.85 L111.58 164.85 L111.58 166.26 L112.13 166.26 L112.13 163.94 L112.69 163.94 L112.69 161.98 L113.24 161.98 L113.24 162.41 L113.80 162.41 L113.80 162.30 L114.35 162.30 L114.35 164.94 L114.90 164.94 L114.90 163.48 L115.46 163.48 L115.46 165.70 L116.01 165.70 L116.01 163.48 L116.56 163.48 L116.56 165.71 L117.12 165.71 L117.12 165.90 L117.67 165.90 L117.67 166.16 L118.23 166.16 L118.23 163.86 L118.78 163.86 L118.78 164.59 L119.33 164.59 L119.33 164.74 L119.89 164.74 L119.89 167.01 L120.44 167.01 L120.44 164.82 L120.99 164.82 L120.99 167.53 L121.55 167.53 L121.55 162.53 L122.10 162.53 L122.10 165.28 L122.65 165.28 L122.65 164.73 L123.21 164.73 L123.21 165.24 L123.76 165.24 L123.76 167.77 L124.32 167.77 L124.32 167.41 L124.87 167.41 L124.87 165.11 L125.42 165.11 L125.42 162.50 L125.98 162.50 L125.98 166.97 L126.53 166.97 L126.53 166.27 L127.08 166.27 L127.08 165.14 L127.64 165.14 L127.64 167.95 L128.19 167.95 L128.19 167.97 L128.75 167.97 L128.75 165.76 L129.30 165.76 L129.30 165.14 L129.85 165.14 L129.85 165.73 L130.41 165.73 L130.41 162.43 L130.96 162.43 L130.96 165.34 L131.51 165.34 L131.51 164.44 L132.07 164.44 L132.07 162.32 L132.62 162.32 L132.62 162.14 L133.18 162.14 L133.18 167.78 L133.73 167.78 L133.73 165.71 L134.28 165.71 L134.28 163.07 L134.84 163.07 L134.84 167.42 L135.39 167.42 L135.39 166.64 L135.94 166.64 L135.94 167.28 L136.50 167.28 L136.50 167.39 L137.05 167.39 L137.05 167.00 L137.61 167.00 L137.61 164.76 L138.16 164.76 L138.16 162.89 L138.71 162.89 L138.71 162.44 L139.27 162.44 L139.27 165.04 L139.82 165.04 L139.82 168.44 L140.37 168.44 L140.37 165.16 L140.93 165.16 L140.93 165.64 L141.48 165.64 L141.48 164.46 L142.04 164.46 L142.04 165.28 L142.59 165.28 L142.59 168.14 L143.14 168.14 L143.14 164.35 L143.70 164.35 L143.70 168.60 L144.25 168.60 L144.25 166.24 L144.80 166.24 L144.80 164.53 L145.36 164.53 L145.36 164.46 L145.91 164.46 L145.91 162.37 L146.47 162.37 L146.47 169.11 L147.02 169.11 L147.02 164.48 L147.57 164.48 L147.57 163.88 L148.13 163.88 L148.13 165.62 L148.68 165.62 L148.68 163.97 L149.23 163.97 L149.23 166.95 L149.79 166.95 L149.79 163.93 L150.34 163.93 L150.34 164.14 L150.89 164.14 L150.89 166.74 L151.45 166.74 L151.45 166.20 L152.00 166.20 L152.00 165.38 L152.56 165.38 L152.56 166.18 L153.11 166.18 L153.11 163.27 L153.66 163.27 L153.66 164.76 L154.22 164.76 L154.22 162.81 L154.77 162.81 L154.77 163.05 L155.32 163.05 L155.32 164.96 L155.88 164.96 L155.88 165.39 L156.43 165.39 L156.43 166.68 L156.99 166.68 L156.99 166.44 L157.54 166.44 L157.54 166.43 L158.09 166.43 L158.09 164.46 L158.65 164.46 L158.65 166.57 L159.20 166.57 L159.20 164.92 L159.75 164.92 L159.75 164.73 L160.31 164.73 L160.31 165.91 L160.86 165.91 L160.86 165.38 L161.42 165.38 L161.42 162.58 L161.97 162.58 L161.97 162.30 L162.52 162.30 L162.52 166.40 L162.80 166.40 L162.80 258.50 Z" fill="#0072BD"/>

<rect x="21.60" y="147.45" width="141.20" height="111.05" fill="none" stroke="#262626" stroke-width="0.45" stroke-opacity="0.28"/>
<path d="M21.60 258.50 v-1.40 M21.60 147.45 v1.40 M49.29 258.50 v-1.40 M49.29 147.45 v1.40 M76.97 258.50 v-1.40 M76.97 147.45 v1.40 M104.66 258.50 v-1.40 M104.66 147.45 v1.40 M132.35 258.50 v-1.40 M132.35 147.45 v1.40 M160.03 258.50 v-1.40 M160.03 147.45 v1.40 M21.60 258.50 h1.40 M162.80 258.50 h-1.40 M21.60 242.64 h1.40 M162.80 242.64 h-1.40 M21.60 226.77 h1.40 M162.80 226.77 h-1.40 M21.60 210.91 h1.40 M162.80 210.91 h-1.40 M21.60 195.04 h1.40 M162.80 195.04 h-1.40 M21.60 179.18 h1.40 M162.80 179.18 h-1.40 M21.60 163.31 h1.40 M162.80 163.31 h-1.40 M21.60 147.45 h1.40 M162.80 147.45 h-1.40" stroke="#262626" stroke-width="0.45" stroke-opacity="0.4" fill="none"/>
<g><text transform="translate(21.60 264.50) rotate(0.03)" text-anchor="middle" font-size="4.30">0</text>
<text transform="translate(49.29 264.50) rotate(0.03)" text-anchor="middle" font-size="4.30">50</text>
<text transform="translate(76.97 264.50) rotate(0.03)" text-anchor="middle" font-size="4.30">100</text>
<text transform="translate(104.66 264.50) rotate(0.03)" text-anchor="middle" font-size="4.30">150</text>
<text transform="translate(132.35 264.50) rotate(0.03)" text-anchor="middle" font-size="4.30">200</text>
<text transform="translate(160.03 264.50) rotate(0.03)" text-anchor="middle" font-size="4.30">250</text>
<text transform="translate(19.80 260.00) rotate(0.03)" text-anchor="end" font-size="4.30">0</text>
<text transform="translate(19.80 244.14) rotate(0.03)" text-anchor="end" font-size="4.30">500</text>
<text transform="translate(19.80 228.27) rotate(0.03)" text-anchor="end" font-size="4.30">1000</text>
<text transform="translate(19.80 212.41) rotate(0.03)" text-anchor="end" font-size="4.30">1500</text>
<text transform="translate(19.80 196.54) rotate(0.03)" text-anchor="end" font-size="4.30">2000</text>
<text transform="translate(19.80 180.68) rotate(0.03)" text-anchor="end" font-size="4.30">2500</text>
<text transform="translate(19.80 164.81) rotate(0.03)" text-anchor="end" font-size="4.30">3000</text>
<text transform="translate(19.80 148.95) rotate(0.03)" text-anchor="end" font-size="4.30">3500</text>
<text transform="translate(92.20 270.90) rotate(0.03)" text-anchor="middle" stroke-width="0.14" font-size="4.75">Pixel value</text>
<text transform="translate(7.24 203.07) rotate(-89.97)" text-anchor="middle" stroke-width="0.14" font-size="4.68">Occurrence number</text></g>
</g>
<g>
<path d="M213.50 258.50 L213.50 255.03 L213.78 255.03 L213.78 258.50 L214.33 258.50 L214.33 258.50 L214.88 258.50 L214.88 258.50 L215.44 258.50 L215.44 258.50 L215.99 258.50 L215.99 258.50 L216.55 258.50 L216.55 258.50 L217.10 258.50 L217.10 258.50 L217.65 258.50 L217.65 258.50 L218.21 258.50 L218.21 258.50 L218.76 258.50 L218.76 258.50 L219.31 258.50 L219.31 258.50 L219.87 258.50 L219.87 258.50 L220.42 258.50 L220.42 258.50 L220.98 258.50 L220.98 258.50 L221.53 258.50 L221.53 258.50 L222.08 258.50 L222.08 258.50 L222.64 258.50 L222.64 258.50 L223.19 258.50 L223.19 258.50 L223.74 258.50 L223.74 258.50 L224.30 258.50 L224.30 258.50 L224.85 258.50 L224.85 258.50 L225.41 258.50 L225.41 258.50 L225.96 258.50 L225.96 258.50 L226.51 258.50 L226.51 258.50 L227.07 258.50 L227.07 258.50 L227.62 258.50 L227.62 258.50 L228.17 258.50 L228.17 258.50 L228.73 258.50 L228.73 258.50 L229.28 258.50 L229.28 258.50 L229.83 258.50 L229.83 258.50 L230.39 258.50 L230.39 258.50 L230.94 258.50 L230.94 258.50 L231.50 258.50 L231.50 258.50 L232.05 258.50 L232.05 258.50 L232.60 258.50 L232.60 258.50 L233.16 258.50 L233.16 258.50 L233.71 258.50 L233.71 258.50 L234.26 258.50 L234.26 258.50 L234.82 258.50 L234.82 258.50 L235.37 258.50 L235.37 258.50 L235.93 258.50 L235.93 258.50 L236.48 258.50 L236.48 258.50 L237.03 258.50 L237.03 258.50 L237.59 258.50 L237.59 258.50 L238.14 258.50 L238.14 258.50 L238.69 258.50 L238.69 258.50 L239.25 258.50 L239.25 258.50 L239.80 258.50 L239.80 258.50 L240.36 258.50 L240.36 258.50 L240.91 258.50 L240.91 258.50 L241.46 258.50 L241.46 258.50 L242.02 258.50 L242.02 258.50 L242.57 258.50 L242.57 258.50 L243.12 258.50 L243.12 258.50 L243.68 258.50 L243.68 258.50 L244.23 258.50 L244.23 258.50 L244.79 258.50 L244.79 258.50 L245.34 258.50 L245.34 258.50 L245.89 258.50 L245.89 258.50 L246.45 258.50 L246.45 258.50 L247.00 258.50 L247.00 258.50 L247.55 258.50 L247.55 258.50 L248.11 258.50 L248.11 258.50 L248.66 258.50 L248.66 258.50 L249.22 258.50 L249.22 258.50 L249.77 258.50 L249.77 258.50 L250.32 258.50 L250.32 258.50 L250.88 258.50 L250.88 258.50 L251.43 258.50 L251.43 258.50 L251.98 258.50 L251.98 258.50 L252.54 258.50 L252.54 258.50 L253.09 258.50 L253.09 258.50 L253.65 258.50 L253.65 258.50 L254.20 258.50 L254.20 258.50 L254.75 258.50 L254.75 258.50 L255.31 258.50 L255.31 258.50 L255.86 258.50 L255.86 258.50 L256.41 258.50 L256.41 258.50 L256.97 258.50 L256.97 258.50 L257.52 258.50 L257.52 258.50 L258.07 258.50 L258.07 258.50 L258.63 258.50 L258.63 258.50 L259.18 258.50 L259.18 258.50 L259.74 258.50 L259.74 258.50 L260.29 258.50 L260.29 258.50 L260.84 258.50 L260.84 258.50 L261.40 258.50 L261.40 258.50 L261.95 258.50 L261.95 258.50 L262.50 258.50 L262.50 258.50 L263.06 258.50 L263.06 258.50 L263.61 258.50 L263.61 258.50 L264.17 258.50 L264.17 258.50 L264.72 258.50 L264.72 258.50 L265.27 258.50 L265.27 258.50 L265.83 258.50 L265.83 258.50 L266.38 258.50 L266.38 258.50 L266.93 258.50 L266.93 258.50 L267.49 258.50 L267.49 258.50 L268.04 258.50 L268.04 258.50 L268.60 258.50 L268.60 258.50 L269.15 258.50 L269.15 258.50 L269.70 258.50 L269.70 258.50 L270.26 258.50 L270.26 258.50 L270.81 258.50 L270.81 258.50 L271.36 258.50 L271.36 258.50 L271.92 258.50 L271.92 258.50 L272.47 258.50 L272.47 258.50 L273.03 258.50 L273.03 258.50 L273.58 258.50 L273.58 258.50 L274.13 258.50 L274.13 258.50 L274.69 258.50 L274.69 258.50 L275.24 258.50 L275.24 258.50 L275.79 258.50 L275.79 258.50 L276.35 258.50 L276.35 258.50 L276.90 258.50 L276.90 258.50 L277.46 258.50 L277.46 258.50 L278.01 258.50 L278.01 258.50 L278.56 258.50 L278.56 258.50 L279.12 258.50 L279.12 258.50 L279.67 258.50 L279.67 258.50 L280.22 258.50 L280.22 258.50 L280.78 258.50 L280.78 258.50 L281.33 258.50 L281.33 258.50 L281.89 258.50 L281.89 258.50 L282.44 258.50 L282.44 258.50 L282.99 258.50 L282.99 258.50 L283.55 258.50 L283.55 258.50 L284.10 258.50 L284.10 258.50 L284.65 258.50 L284.65 258.50 L285.21 258.50 L285.21 258.50 L285.76 258.50 L285.76 258.50 L286.31 258.50 L286.31 258.50 L286.87 258.50 L286.87 258.50 L287.42 258.50 L287.42 258.50 L287.98 258.50 L287.98 258.50 L288.53 258.50 L288.53 258.50 L289.08 258.50 L289.08 258.50 L289.64 258.50 L289.64 258.50 L290.19 258.50 L290.19 258.50 L290.74 258.50 L290.74 258.50 L291.30 258.50 L291.30 258.50 L291.85 258.50 L291.85 258.50 L292.41 258.50 L292.41 258.50 L292.96 258.50 L292.96 258.50 L293.51 258.50 L293.51 258.50 L294.07 258.50 L294.07 258.50 L294.62 258.50 L294.62 258.50 L295.17 258.50 L295.17 258.50 L295.73 258.50 L295.73 258.50 L296.28 258.50 L296.28 258.50 L296.84 258.50 L296.84 258.50 L297.39 258.50 L297.39 258.50 L297.94 258.50 L297.94 258.50 L298.50 258.50 L298.50 258.50 L299.05 258.50 L299.05 258.50 L299.60 258.50 L299.60 258.50 L300.16 258.50 L300.16 258.50 L300.71 258.50 L300.71 258.50 L301.27 258.50 L301.27 258.50 L301.82 258.50 L301.82 258.50 L302.37 258.50 L302.37 258.50 L302.93 258.50 L302.93 258.50 L303.48 258.50 L303.48 258.50 L304.03 258.50 L304.03 258.50 L304.59 258.50 L304.59 258.50 L305.14 258.50 L305.14 258.50 L305.70 258.50 L305.70 258.50 L306.25 258.50 L306.25 258.50 L306.80 258.50 L306.80 258.50 L307.36 258.50 L307.36 258.50 L307.91 258.50 L307.91 258.50 L308.46 258.50 L308.46 258.50 L309.02 258.50 L309.02 258.50 L309.57 258.50 L309.57 258.50 L310.13 258.50 L310.13 258.50 L310.68 258.50 L310.68 258.50 L311.23 258.50 L311.23 258.50 L311.79 258.50 L311.79 258.50 L312.34 258.50 L312.34 258.50 L312.89 258.50 L312.89 258.50 L313.45 258.50 L313.45 258.50 L314.00 258.50 L314.00 258.50 L314.55 258.50 L314.55 258.50 L315.11 258.50 L315.11 258.50 L315.66 258.50 L315.66 258.50 L316.22 258.50 L316.22 258.50 L316.77 258.50 L316.77 258.50 L317.32 258.50 L317.32 258.50 L317.88 258.50 L317.88 258.50 L318.43 258.50 L318.43 258.50 L318.98 258.50 L318.98 258.50 L319.54 258.50 L319.54 258.50 L320.09 258.50 L320.09 258.50 L320.65 258.50 L320.65 258.50 L321.20 258.50 L321.20 258.50 L321.75 258.50 L321.75 258.50 L322.31 258.50 L322.31 258.50 L322.86 258.50 L322.86 258.50 L323.41 258.50 L323.41 258.50 L323.97 258.50 L323.97 258.50 L324.52 258.50 L324.52 258.50 L325.08 258.50 L325.08 258.50 L325.63 258.50 L325.63 258.50 L326.18 258.50 L326.18 258.50 L326.74 258.50 L326.74 258.50 L327.29 258.50 L327.29 258.50 L327.84 258.50 L327.84 258.50 L328.40 258.50 L328.40 258.50 L328.95 258.50 L328.95 258.50 L329.51 258.50 L329.51 258.50 L330.06 258.50 L330.06 258.50 L330.61 258.50 L330.61 258.50 L331.17 258.50 L331.17 258.50 L331.72 258.50 L331.72 258.50 L332.27 258.50 L332.27 258.50 L332.83 258.50 L332.83 258.50 L333.38 258.50 L333.38 258.50 L333.94 258.50 L333.94 258.50 L334.49 258.50 L334.49 258.50 L335.04 258.50 L335.04 258.50 L335.60 258.50 L335.60 258.50 L336.15 258.50 L336.15 258.50 L336.70 258.50 L336.70 258.50 L337.26 258.50 L337.26 258.50 L337.81 258.50 L337.81 258.50 L338.37 258.50 L338.37 258.50 L338.92 258.50 L338.92 258.50 L339.47 258.50 L339.47 258.50 L340.03 258.50 L340.03 258.50 L340.58 258.50 L340.58 258.50 L341.13 258.50 L341.13 258.50 L341.69 258.50 L341.69 258.50 L342.24 258.50 L342.24 258.50 L342.79 258.50 L342.79 258.50 L343.35 258.50 L343.35 258.50 L343.90 258.50 L343.90 258.50 L344.46 258.50 L344.46 258.50 L345.01 258.50 L345.01 258.50 L345.56 258.50 L345.56 258.50 L346.12 258.50 L346.12 258.50 L346.67 258.50 L346.67 258.50 L347.22 258.50 L347.22 258.50 L347.78 258.50 L347.78 258.50 L348.33 258.50 L348.33 258.50 L348.89 258.50 L348.89 258.50 L349.44 258.50 L349.44 258.50 L349.99 258.50 L349.99 258.50 L350.55 258.50 L350.55 258.50 L351.10 258.50 L351.10 258.50 L351.65 258.50 L351.65 258.50 L352.21 258.50 L352.21 258.50 L352.76 258.50 L352.76 258.50 L353.32 258.50 L353.32 258.50 L353.87 258.50 L353.87 258.50 L354.42 258.50 L354.42 157.17 L354.70 157.17 L354.70 258.50 Z" fill="#0072BD"/>
<path d="M354.50 258.50 V157.17" stroke="#0072BD" stroke-width="0.5" stroke-opacity="0.6" fill="none"/>
<rect x="213.50" y="147.45" width="141.20" height="111.05" fill="none" stroke="#262626" stroke-width="0.45" stroke-opacity="0.28"/>
<path d="M213.50 258.50 v-1.40 M213.50 147.45 v1.40 M241.19 258.50 v-1.40 M241.19 147.45 v1.40 M268.87 258.50 v-1.40 M268.87 147.45 v1.40 M296.56 258.50 v-1.40 M296.56 147.45 v1.40 M324.25 258.50 v-1.40 M324.25 147.45 v1.40 M351.93 258.50 v-1.40 M351.93 147.45 v1.40 M213.50 258.50 h1.40 M354.70 258.50 h-1.40 M213.50 244.62 h1.40 M354.70 244.62 h-1.40 M213.50 230.74 h1.40 M354.70 230.74 h-1.40 M213.50 216.86 h1.40 M354.70 216.86 h-1.40 M213.50 202.97 h1.40 M354.70 202.97 h-1.40 M213.50 189.09 h1.40 M354.70 189.09 h-1.40 M213.50 175.21 h1.40 M354.70 175.21 h-1.40 M213.50 161.33 h1.40 M354.70 161.33 h-1.40 M213.50 147.45 h1.40 M354.70 147.45 h-1.40" stroke="#262626" stroke-width="0.45" stroke-opacity="0.4" fill="none"/>
<g><text transform="translate(213.50 264.50) rotate(0.03)" text-anchor="middle" font-size="4.30">0</text>
<text transform="translate(241.19 264.50) rotate(0.03)" text-anchor="middle" font-size="4.30">50</text>
<text transform="translate(268.87 264.50) rotate(0.03)" text-anchor="middle" font-size="4.30">100</text>
<text transform="translate(296.56 264.50) rotate(0.03)" text-anchor="middle" font-size="4.30">150</text>
<text transform="translate(324.25 264.50) rotate(0.03)" text-anchor="middle" font-size="4.30">200</text>
<text transform="translate(351.93 264.50) rotate(0.03)" text-anchor="middle" font-size="4.30">250</text>
<text transform="translate(211.70 260.00) rotate(0.03)" text-anchor="end" font-size="4.30">0</text>
<text transform="translate(211.70 246.12) rotate(0.03)" text-anchor="end" font-size="4.30">1</text>
<text transform="translate(211.70 232.24) rotate(0.03)" text-anchor="end" font-size="4.30">2</text>
<text transform="translate(211.70 218.36) rotate(0.03)" text-anchor="end" font-size="4.30">3</text>
<text transform="translate(211.70 204.47) rotate(0.03)" text-anchor="end" font-size="4.30">4</text>
<text transform="translate(211.70 190.59) rotate(0.03)" text-anchor="end" font-size="4.30">5</text>
<text transform="translate(211.70 176.71) rotate(0.03)" text-anchor="end" font-size="4.30">6</text>
<text transform="translate(211.70 162.83) rotate(0.03)" text-anchor="end" font-size="4.30">7</text>
<text transform="translate(211.70 148.95) rotate(0.03)" text-anchor="end" font-size="4.30">8</text>
<text transform="translate(284.10 270.90) rotate(0.03)" text-anchor="middle" stroke-width="0.14" font-size="4.75">Pixel value</text>
<text transform="translate(207.51 203.07) rotate(-89.97)" text-anchor="middle" stroke-width="0.14" font-size="4.68">Occurrence number</text>
<text transform="translate(214.20 146.65) rotate(0.03)" font-size="4.30">×<tspan dx="1.0">10</tspan><tspan dy="-2.3" font-size="3.44">5</tspan></text></g>
</g>
<g>
<path d="M405.85 258.50 L405.85 163.92 L406.13 163.92 L406.13 165.02 L406.68 165.02 L406.68 166.39 L407.23 166.39 L407.23 163.43 L407.79 163.43 L407.79 163.86 L408.34 163.86 L408.34 166.86 L408.90 166.86 L408.90 165.69 L409.45 165.69 L409.45 167.01 L410.00 167.01 L410.00 167.32 L410.56 167.32 L410.56 162.02 L411.11 162.02 L411.11 165.65 L411.66 165.65 L411.66 163.91 L412.22 163.91 L412.22 164.51 L412.77 164.51 L412.77 164.96 L413.33 164.96 L413.33 166.85 L413.88 166.85 L413.88 166.79 L414.43 166.79 L414.43 164.30 L414.99 164.30 L414.99 163.13 L415.54 163.13 L415.54 168.21 L416.09 168.21 L416.09 166.67 L416.65 166.67 L416.65 165.41 L417.20 165.41 L417.20 163.27 L417.76 163.27 L417.76 164.14 L418.31 164.14 L418.31 163.67 L418.86 163.67 L418.86 164.65 L419.42 164.65 L419.42 166.69 L419.97 166.69 L419.97 165.29 L420.52 165.29 L420.52 162.89 L421.08 162.89 L421.08 164.76 L421.63 164.76 L421.63 167.16 L422.18 167.16 L422.18 162.63 L422.74 162.63 L422.74 164.28 L423.29 164.28 L423.29 163.81 L423.85 163.81 L423.85 161.69 L424.40 161.69 L424.40 166.00 L424.95 166.00 L424.95 166.22 L425.51 166.22 L425.51 169.35 L426.06 169.35 L426.06 164.81 L426.61 164.81 L426.61 164.02 L427.17 164.02 L427.17 165.10 L427.72 165.10 L427.72 165.04 L428.28 165.04 L428.28 163.46 L428.83 163.46 L428.83 164.34 L429.38 164.34 L429.38 164.35 L429.94 164.35 L429.94 165.18 L430.49 165.18 L430.49 165.14 L431.04 165.14 L431.04 163.28 L431.60 163.28 L431.60 165.22 L432.15 165.22 L432.15 165.78 L432.71 165.78 L432.71 166.01 L433.26 166.01 L433.26 165.27 L433.81 165.27 L433.81 164.73 L434.37 164.73 L434.37 164.18 L434.92 164.18 L434.92 164.83 L435.47 164.83 L435.47 165.63 L436.03 165.63 L436.03 167.86 L436.58 167.86 L436.58 164.00 L437.14 164.00 L437.14 166.76 L437.69 166.76 L437.69 165.34 L438.24 165.34 L438.24 163.02 L438.80 163.02 L438.80 164.63 L439.35 164.63 L439.35 166.45 L439.90 166.45 L439.90 163.85 L440.46 163.85 L440.46 165.52 L441.01 165.52 L441.01 165.89 L441.57 165.89 L441.57 162.93 L442.12 162.93 L442.12 163.90 L442.67 163.90 L442.67 159.60 L443.23 159.60 L443.23 166.91 L443.78 166.91 L443.78 165.04 L444.33 165.04 L444.33 164.31 L444.89 164.31 L444.89 162.78 L445.44 162.78 L445.44 165.49 L446.00 165.49 L446.00 162.33 L446.55 162.33 L446.55 164.77 L447.10 164.77 L447.10 166.27 L447.66 166.27 L447.66 165.29 L448.21 165.29 L448.21 165.09 L448.76 165.09 L448.76 165.23 L449.32 165.23 L449.32 166.03 L449.87 166.03 L449.87 165.37 L450.42 165.37 L450.42 163.33 L450.98 163.33 L450.98 163.48 L451.53 163.48 L451.53 161.75 L452.09 161.75 L452.09 166.42 L452.64 166.42 L452.64 166.79 L453.19 166.79 L453.19 161.37 L453.75 161.37 L453.75 164.33 L454.30 164.33 L454.30 164.30 L454.85 164.30 L454.85 166.46 L455.41 166.46 L455.41 164.31 L455.96 164.31 L455.96 164.89 L456.52 164.89 L456.52 164.95 L457.07 164.95 L457.07 162.96 L457.62 162.96 L457.62 166.38 L458.18 166.38 L458.18 164.73 L458.73 164.73 L458.73 168.01 L459.28 168.01 L459.28 164.27 L459.84 164.27 L459.84 166.92 L460.39 166.92 L460.39 161.94 L460.95 161.94 L460.95 167.34 L461.50 167.34 L461.50 162.25 L462.05 162.25 L462.05 166.47 L462.61 166.47 L462.61 167.80 L463.16 167.80 L463.16 164.67 L463.71 164.67 L463.71 164.66 L464.27 164.66 L464.27 166.68 L464.82 166.68 L464.82 167.22 L465.38 167.22 L465.38 169.15 L465.93 169.15 L465.93 165.63 L466.48 165.63 L466.48 164.47 L467.04 164.47 L467.04 168.53 L467.59 168.53 L467.59 164.83 L468.14 164.83 L468.14 162.31 L468.70 162.31 L468.70 168.08 L469.25 168.08 L469.25 164.09 L469.81 164.09 L469.81 164.12 L470.36 164.12 L470.36 166.11 L470.91 166.11 L470.91 164.51 L471.47 164.51 L471.47 166.95 L472.02 166.95 L472.02 164.29 L472.57 164.29 L472.57 162.29 L473.13 162.29 L473.13 165.65 L473.68 165.65 L473.68 166.13 L474.24 166.13 L474.24 168.51 L474.79 168.51 L474.79 161.85 L475.34 161.85 L475.34 161.85 L475.90 161.85 L475.90 165.92 L476.45 165.92 L476.45 164.90 L477.00 164.90 L477.00 165.22 L477.56 165.22 L477.56 162.73 L478.11 162.73 L478.11 167.75 L478.66 167.75 L478.66 163.90 L479.22 163.90 L479.22 168.92 L479.77 168.92 L479.77 163.94 L480.33 163.94 L480.33 166.34 L480.88 166.34 L480.88 162.82 L481.43 162.82 L481.43 164.12 L481.99 164.12 L481.99 166.11 L482.54 166.11 L482.54 166.32 L483.09 166.32 L483.09 167.11 L483.65 167.11 L483.65 162.18 L484.20 162.18 L484.20 163.23 L484.76 163.23 L484.76 166.10 L485.31 166.10 L485.31 167.34 L485.86 167.34 L485.86 164.21 L486.42 164.21 L486.42 165.04 L486.97 165.04 L486.97 165.89 L487.52 165.89 L487.52 164.86 L488.08 164.86 L488.08 163.92 L488.63 163.92 L488.63 165.10 L489.19 165.10 L489.19 163.99 L489.74 163.99 L489.74 165.07 L490.29 165.07 L490.29 164.59 L490.85 164.59 L490.85 165.99 L491.40 165.99 L491.40 163.70 L491.95 163.70 L491.95 164.79 L492.51 164.79 L492.51 165.58 L493.06 165.58 L493.06 164.73 L493.62 164.73 L493.62 165.46 L494.17 165.46 L494.17 165.39 L494.72 165.39 L494.72 164.16 L495.28 164.16 L495.28 163.56 L495.83 163.56 L495.83 167.85 L496.38 167.85 L496.38 165.38 L496.94 165.38 L496.94 164.92 L497.49 164.92 L497.49 166.98 L498.05 166.98 L498.05 164.31 L498.60 164.31 L498.60 165.47 L499.15 165.47 L499.15 165.98 L499.71 165.98 L499.71 168.09 L500.26 168.09 L500.26 167.53 L500.81 167.53 L500.81 164.90 L501.37 164.90 L501.37 161.99 L501.92 161.99 L501.92 165.77 L502.48 165.77 L502.48 168.65 L503.03 168.65 L503.03 162.94 L503.58 162.94 L503.58 164.76 L504.14 164.76 L504.14 163.05 L504.69 163.05 L504.69 166.14 L505.24 166.14 L505.24 163.58 L505.80 163.58 L505.80 164.46 L506.35 164.46 L506.35 167.20 L506.90 167.20 L506.90 165.66 L507.46 165.66 L507.46 164.85 L508.01 164.85 L508.01 166.56 L508.57 166.56 L508.57 163.01 L509.12 163.01 L509.12 165.75 L509.67 165.75 L509.67 163.54 L510.23 163.54 L510.23 165.47 L510.78 165.47 L510.78 163.94 L511.33 163.94 L511.33 164.08 L511.89 164.08 L511.89 168.32 L512.44 168.32 L512.44 165.48 L513.00 165.48 L513.00 163.80 L513.55 163.80 L513.55 165.63 L514.10 165.63 L514.10 162.45 L514.66 162.45 L514.66 162.82 L515.21 162.82 L515.21 166.38 L515.76 166.38 L515.76 164.74 L516.32 164.74 L516.32 164.08 L516.87 164.08 L516.87 166.18 L517.43 166.18 L517.43 162.16 L517.98 162.16 L517.98 163.65 L518.53 163.65 L518.53 164.87 L519.09 164.87 L519.09 166.36 L519.64 166.36 L519.64 166.49 L520.19 166.49 L520.19 166.30 L520.75 166.30 L520.75 163.67 L521.30 163.67 L521.30 166.50 L521.86 166.50 L521.86 163.49 L522.41 163.49 L522.41 161.02 L522.96 161.02 L522.96 167.33 L523.52 167.33 L523.52 166.12 L524.07 166.12 L524.07 163.11 L524.62 163.11 L524.62 164.54 L525.18 164.54 L525.18 166.52 L525.73 166.52 L525.73 165.14 L526.29 165.14 L526.29 165.10 L526.84 165.10 L526.84 163.77 L527.39 163.77 L527.39 166.53 L527.95 166.53 L527.95 165.50 L528.50 165.50 L528.50 165.28 L529.05 165.28 L529.05 164.43 L529.61 164.43 L529.61 165.42 L530.16 165.42 L530.16 167.57 L530.72 167.57 L530.72 167.30 L531.27 167.30 L531.27 162.95 L531.82 162.95 L531.82 165.87 L532.38 165.87 L532.38 164.86 L532.93 164.86 L532.93 164.99 L533.48 164.99 L533.48 164.39 L534.04 164.39 L534.04 162.70 L534.59 162.70 L534.59 164.97 L535.14 164.97 L535.14 163.67 L535.70 163.67 L535.70 164.15 L536.25 164.15 L536.25 164.58 L536.81 164.58 L536.81 166.93 L537.36 166.93 L537.36 165.80 L537.91 165.80 L537.91 163.43 L538.47 163.43 L538.47 165.57 L539.02 165.57 L539.02 165.63 L539.57 165.63 L539.57 165.51 L540.13 165.51 L540.13 167.10 L540.68 167.10 L540.68 166.45 L541.24 166.45 L541.24 164.70 L541.79 164.70 L541.79 166.55 L542.34 166.55 L542.34 167.22 L542.90 167.22 L542.90 163.81 L543.45 163.81 L543.45 163.64 L544.00 163.64 L544.00 165.15 L544.56 165.15 L544.56 166.76 L545.11 166.76 L545.11 163.36 L545.67 163.36 L545.67 164.32 L546.22 164.32 L546.22 167.75 L546.77 167.75 L546.77 166.68 L547.05 166.68 L547.05 258.50 Z" fill="#0072BD"/>

<rect x="405.85" y="147.45" width="141.20" height="111.05" fill="none" stroke="#262626" stroke-width="0.45" stroke-opacity="0.28"/>
<path d="M405.85 258.50 v-1.40 M405.85 147.45 v1.40 M433.54 258.50 v-1.40 M433.54 147.45 v1.40 M461.22 258.50 v-1.40 M461.22 147.45 v1.40 M488.91 258.50 v-1.40 M488.91 147.45 v1.40 M516.60 258.50 v-1.40 M516.60 147.45 v1.40 M544.28 258.50 v-1.40 M544.28 147.45 v1.40 M405.85 258.50 h1.40 M547.05 258.50 h-1.40 M405.85 242.64 h1.40 M547.05 242.64 h-1.40 M405.85 226.77 h1.40 M547.05 226.77 h-1.40 M405.85 210.91 h1.40 M547.05 210.91 h-1.40 M405.85 195.04 h1.40 M547.05 195.04 h-1.40 M405.85 179.18 h1.40 M547.05 179.18 h-1.40 M405.85 163.31 h1.40 M547.05 163.31 h-1.40 M405.85 147.45 h1.40 M547.05 147.45 h-1.40" stroke="#262626" stroke-width="0.45" stroke-opacity="0.4" fill="none"/>
<g><text transform="translate(405.85 264.50) rotate(0.03)" text-anchor="middle" font-size="4.30">0</text>
<text transform="translate(433.54 264.50) rotate(0.03)" text-anchor="middle" font-size="4.30">50</text>
<text transform="translate(461.22 264.50) rotate(0.03)" text-anchor="middle" font-size="4.30">100</text>
<text transform="translate(488.91 264.50) rotate(0.03)" text-anchor="middle" font-size="4.30">150</text>
<text transform="translate(516.60 264.50) rotate(0.03)" text-anchor="middle" font-size="4.30">200</text>
<text transform="translate(544.28 264.50) rotate(0.03)" text-anchor="middle" font-size="4.30">250</text>
<text transform="translate(404.05 260.00) rotate(0.03)" text-anchor="end" font-size="4.30">0</text>
<text transform="translate(404.05 244.14) rotate(0.03)" text-anchor="end" font-size="4.30">500</text>
<text transform="translate(404.05 228.27) rotate(0.03)" text-anchor="end" font-size="4.30">1000</text>
<text transform="translate(404.05 212.41) rotate(0.03)" text-anchor="end" font-size="4.30">1500</text>
<text transform="translate(404.05 196.54) rotate(0.03)" text-anchor="end" font-size="4.30">2000</text>
<text transform="translate(404.05 180.68) rotate(0.03)" text-anchor="end" font-size="4.30">2500</text>
<text transform="translate(404.05 164.81) rotate(0.03)" text-anchor="end" font-size="4.30">3000</text>
<text transform="translate(404.05 148.95) rotate(0.03)" text-anchor="end" font-size="4.30">3500</text>
<text transform="translate(476.45 270.90) rotate(0.03)" text-anchor="middle" stroke-width="0.14" font-size="4.75">Pixel value</text>
<text transform="translate(391.89 203.07) rotate(-89.97)" text-anchor="middle" stroke-width="0.14" font-size="4.68">Occurrence number</text></g>
</g>
</svg>
</body></html>
